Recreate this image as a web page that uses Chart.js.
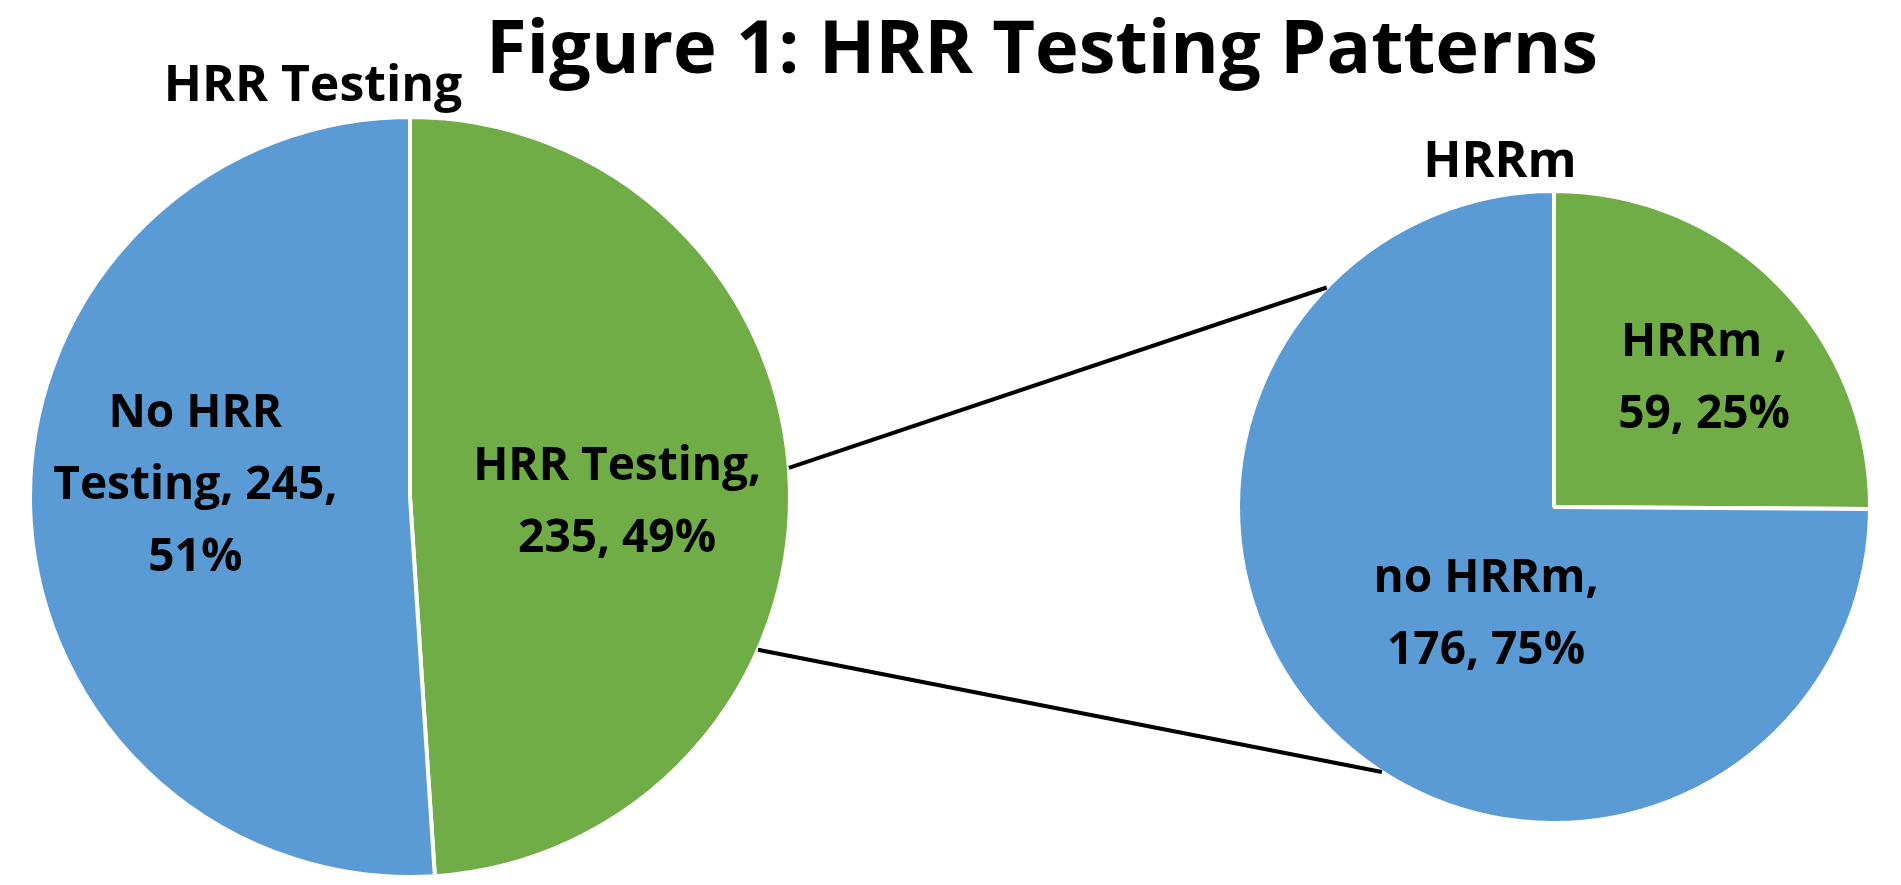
<!DOCTYPE html>
<html><head><meta charset="utf-8">
<script src="https://cdn.jsdelivr.net/npm/chart.js@4"></script>
<style>
body{margin:0;width:1901px;height:885px;background:#fff;position:relative;overflow:hidden;font-family:"Liberation Sans Narrow","Open Sans",sans-serif;font-weight:bold}
.t{position:absolute;white-space:nowrap;transform:translateX(-50%);color:#000}
#c1{position:absolute;left:28px;top:115px;width:764px;height:764px}
#c2{position:absolute;left:1236px;top:189px;width:636px;height:636px}
#ov{position:absolute;left:0;top:0;pointer-events:none}
</style></head><body>
<div class="t" style="left:1042px;top:-6px;font-size:74px">Figure 1: HRR Testing Patterns</div>
<div class="t" style="left:313px;top:48px;font-size:50px">HRR Testing</div>
<div class="t" style="left:1500px;top:124px;font-size:50px">HRRm</div>
<div id="c1"><canvas id="p1"></canvas></div>
<div id="c2"><canvas id="p2"></canvas></div>
<canvas id="ov" width="1901" height="885"></canvas>
<script>
const mainLabels=["HRR Testing","No HRR Testing"];
const mainValues=[235,245];
const mainText=[["HRR Testing,","235, 49%"],["No HRR","Testing, 245,","51%"]];
const subLabels=["HRRm","no HRRm"];
const subValues=[59,176];
const subText=[["HRRm ,","59, 25%"],["no HRRm,","176, 75%"]];
const colors=["#70AD47","#5B9BD5"];

function labelPlugin(texts,offs){return{id:'lbl',afterDatasetsDraw(ch){
  const a=ch.getDatasetMeta(0).data[0];const ctx=ch.ctx;
  ctx.save();ctx.fillStyle='#000';ctx.font='bold 46px "Liberation Sans Narrow","Open Sans",sans-serif';
  ctx.textAlign='center';ctx.textBaseline='middle';
  texts.forEach((ls,i)=>{const cx=a.x+offs[i][0]*a.outerRadius,cy=a.y+offs[i][1]*a.outerRadius;
    const lh=72;ls.forEach((l,j)=>ctx.fillText(l,cx,cy+(j-(ls.length-1)/2)*lh));});
  ctx.restore();}};}

function mk(id,labels,values,texts,offs){
  return new Chart(document.getElementById(id),{type:'pie',
    data:{labels,datasets:[{data:values,backgroundColor:colors,borderColor:'#fff',borderWidth:4}]},
    options:{responsive:true,maintainAspectRatio:false,animation:false,layout:{padding:0},
      plugins:{legend:{display:false},tooltip:{enabled:false}}},
    plugins:[labelPlugin(texts,offs)]});
}
const ch1=mk('p1',mainLabels,mainValues,mainText,[[0.545,0.015],[-0.565,-0.03]]);
const ch2=mk('p2',subLabels,subValues,subText,[[0.475,-0.405],[-0.215,0.34]]);

function pt(ch,box,deg){const a=ch.getDatasetMeta(0).data[0];const r=deg*Math.PI/180;
  return [box.offsetLeft+a.x+Math.cos(r)*a.outerRadius, box.offsetTop+a.y+Math.sin(r)*a.outerRadius];}
const o=document.getElementById('ov').getContext('2d');
o.strokeStyle='#000';o.lineWidth=4;
const b1=document.getElementById('c1'),b2=document.getElementById('c2');
[[ -4.4,224],[23.7,123]].forEach(([d1,d2])=>{const p=pt(ch1,b1,d1),q=pt(ch2,b2,d2);
  o.beginPath();o.moveTo(p[0],p[1]);o.lineTo(q[0],q[1]);o.stroke();});
</script></body></html>
